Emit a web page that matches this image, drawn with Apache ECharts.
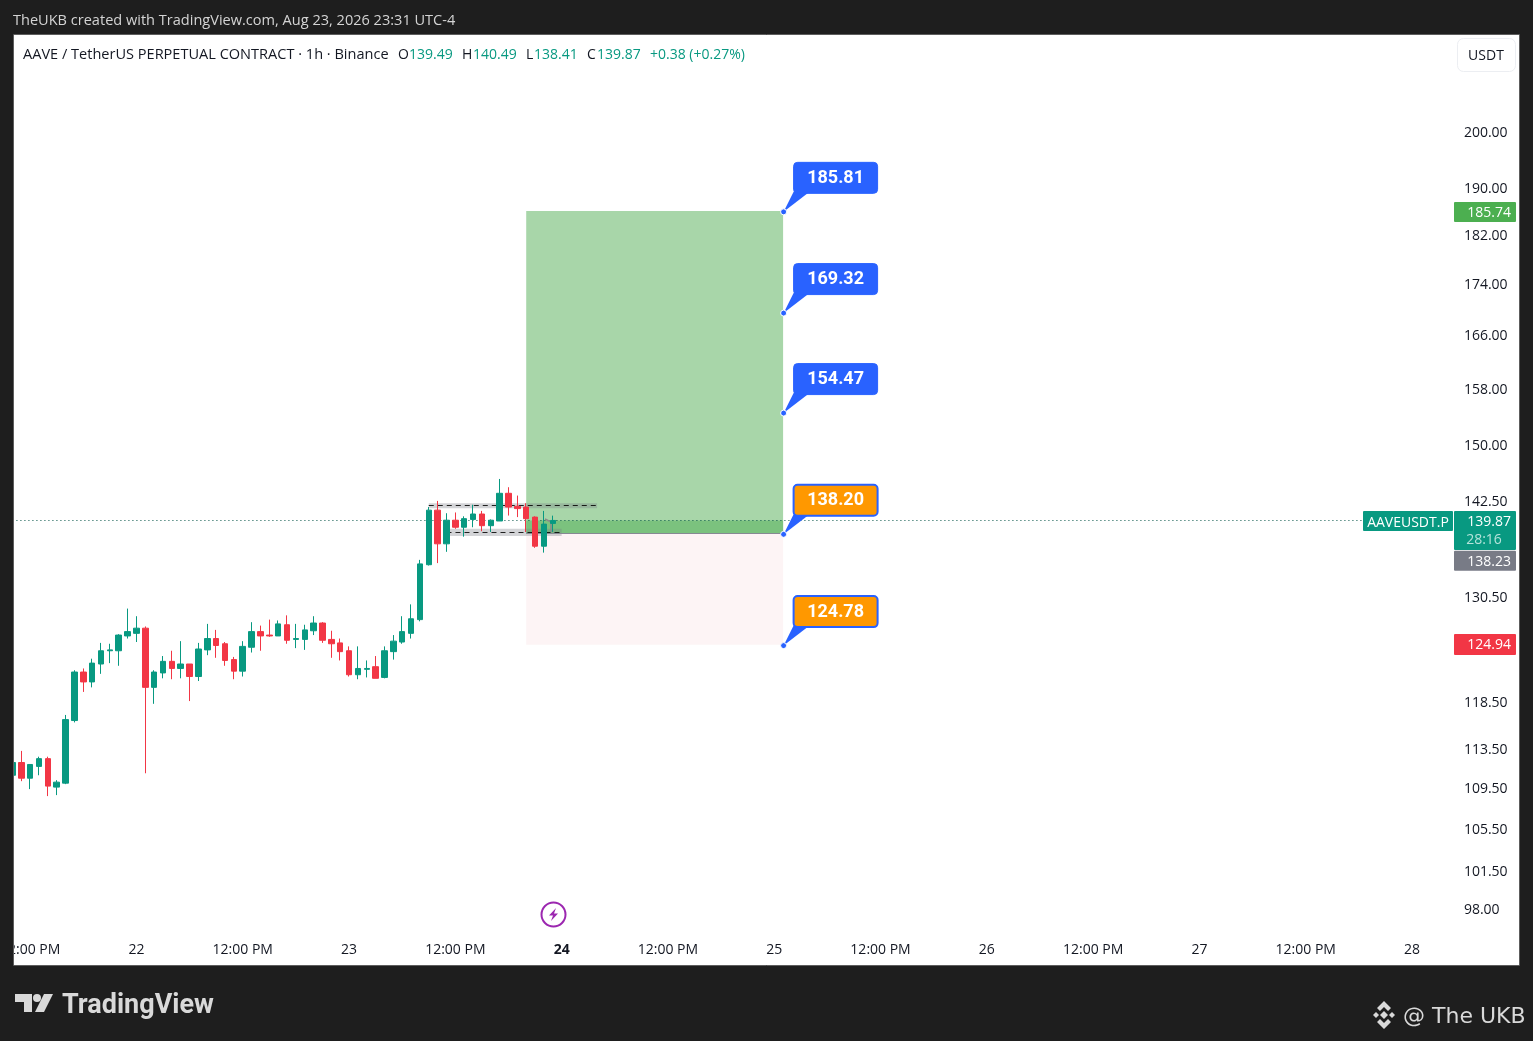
<!DOCTYPE html>
<html><head><meta charset="utf-8">
<style>html,body{margin:0;padding:0;background:#1e1e1e}#c{width:1533px;height:1041px}</style>
<script src="https://cdn.jsdelivr.net/npm/echarts@6/dist/echarts.min.js"></script>
</head><body><div id="c"></div>
<script>
const FONT='"Open Sans"';
const UP='#089981',DOWN='#F23645';
// [open, close, low, high]
const candles=[
[110.7,112.0,110.6,112.1],[112.0,110.4,110.1,113.2],[110.4,111.8,109.3,111.8],[111.6,112.4,110.7,112.6],
[112.4,109.6,108.6,112.6],[109.5,110.0,108.7,110.2],[109.9,116.5,109.8,117.0],[116.4,121.7,116.2,121.9],
[121.7,120.6,119.5,122.1],[120.6,122.7,120.0,123.2],[122.6,124.1,121.5,125.0],[124.1,124.2,122.7,124.9],
[124.1,125.9,122.4,126.0],[125.8,126.3,125.5,129.0],[126.1,126.7,125.1,128.1],[126.7,120.0,110.9,126.9],
[120.0,121.7,118.2,121.9],[121.6,122.9,121.0,123.5],[122.9,122.1,120.9,124.1],[122.1,122.6,121.0,125.2],
[122.6,121.2,118.5,122.6],[121.2,124.3,120.7,125.0],[124.2,125.5,123.6,127.2],[125.5,124.7,123.3,126.5],
[124.9,123.0,122.4,125.1],[123.1,121.8,120.9,123.4],[121.8,124.6,121.2,125.2],[124.5,126.3,123.9,127.4],
[126.3,125.8,124.1,127.0],[125.9,125.8,125.7,127.7],[125.8,127.2,125.8,127.6],[127.1,125.3,124.9,128.2],
[125.4,125.5,124.4,127.2],[125.4,126.5,124.2,127.1],[126.4,127.3,125.9,128.1],[127.3,125.3,125.0,127.4],
[125.4,124.9,123.3,126.4],[125.0,124.0,123.0,125.5],[124.1,121.4,121.2,124.6],[121.4,122.1,120.9,124.6],
[122.0,122.1,121.1,123.0],[122.3,121.0,121.0,123.5],[121.1,124.1,121.0,124.6],[124.0,125.2,123.1,125.9],
[125.1,126.3,124.9,128.1],[126.1,127.8,125.5,129.5],[127.7,134.4,127.5,134.9],[134.3,141.2,134.2,141.6],
[141.2,136.9,134.5,142.4],[136.9,139.9,135.9,140.8],[139.9,139.0,138.8,140.9],[139.0,140.1,137.8,140.4],
[140.0,140.7,139.0,141.9],[140.7,139.2,138.5,141.1],[139.2,139.9,138.4,140.0],[139.8,143.4,139.8,145.3],
[143.4,141.6,140.5,144.2],[141.7,141.4,140.3,143.1],[141.6,140.1,138.4,142.1],[140.3,136.6,136.4,140.4],
[136.6,139.4,135.8,141.1],[139.49,139.87,138.41,140.49]];
const priceTicks=[200,190,182,174,166,158,150,142.5,130.5,118.5,113.5,109.5,105.5,101.5,98];
// hourly categories, day of month + hour, from Aug 21 10:00 (163 bars)
const categories=[];
for(let d=21,h=10,n=0;n<163;n++){categories.push(d+' '+h);h++;if(h==24){h=0;d++;}}
const targetPrices=[185.81,169.32,154.47];
const entryStopPrices=[138.20,124.78];
const posStart=58,posEnd=87;
const priceNow=139.87,takeLine=185.74,stopLine=124.94,entryLine=138.23;
const zoneA=[47,66,142.1,141.45,141.8];
const zoneB=[49,62,138.8,137.9,138.35];

const chart=echarts.init(document.getElementById('c'),null,{renderer:'canvas',width:1533,height:1041});

function calloutItem(color,border){
  return function(params,api){
    const p=api.coord([api.value(0),api.value(1)]);
    const x=p[0]+0.5,y=p[1]+0.8;
    const ch=[
     {type:'polygon',shape:{points:[[x,y],[x+10,y-20],[x+26,y-20]]},style:{fill:border||color}},
     {type:'circle',shape:{cx:x,cy:y,r:3},style:{fill:'#2962ff',stroke:'#fff',lineWidth:1}},
     {type:'rect',shape:{x:x+10,y:y-49.5,width:84,height:31,r:4},style:{fill:color,stroke:border||color,lineWidth:border?2:1}},
     {type:'text',style:{text:api.value(1).toFixed(2),x:x+52,y:y-33.5,fill:'#fff',font:'bold 18px Roboto',align:'center',verticalAlign:'middle'}}
    ];
    return {type:'group',children:ch};
  };
}
function badgeItem(params,api){
  const p=api.coord([0,api.value(0)]);
  const dy=api.value(1);
  const h=api.value(2);
  const b=badges[params.dataIndex];
  return {type:'group',children:[
    {type:'rect',shape:{x:1454,y:p[1]-9.5+dy,width:62,height:h,r:1},style:{fill:b.color}},
    {type:'text',style:{text:b.text,x:1511,y:p[1]+dy+2,fill:'#fff',font:'14px '+FONT,align:'right',verticalAlign:'middle'}}
  ]};
}
const badges=[
 {value:takeLine,dy:0,h:20,color:'#4caf50',text:'185.74'},
 {value:priceNow,dy:0,h:39,color:UP,text:'139.87'},
 {value:entryLine,dy:27,h:20,color:'#787b86',text:'138.23'},
 {value:stopLine,dy:0,h:21,color:DOWN,text:'124.94'}
];
function txt(x,y,t,fill,extra){return Object.assign({type:'text',x:x,y:y,z:110,style:{text:t,fill:fill,font:'14px '+FONT,verticalAlign:'middle'}},extra||{});}
const dark='#1e1e1e';
const graphic=[
 {type:'rect',z:-10,shape:{x:14,y:35,width:1505,height:930},style:{fill:'#fff'}},
 {type:'rect',z:100,shape:{x:0,y:0,width:13,height:1041},style:{fill:dark}},
 {type:'rect',z:100,shape:{x:0,y:0,width:1533,height:34},style:{fill:dark}},
 {type:'rect',z:100,shape:{x:1520,y:0,width:13,height:1041},style:{fill:dark}},
 {type:'rect',z:100,shape:{x:0,y:966,width:1533,height:75},style:{fill:dark}},
 {type:'rect',z:101,shape:{x:13.5,y:34.5,width:1506,height:931},style:{fill:'none',stroke:'#5d5d5d',lineWidth:1}},
 txt(13,21,'TheUKB created with TradingView.com, Aug 23, 2026 23:31 UTC-4','#d4d4d4',{style:{text:'TheUKB created with TradingView.com, Aug 23, 2026 23:31 UTC-4',fill:'#d4d4d4',font:'14.55px '+FONT,verticalAlign:'middle'}}),
 txt(23,55,'AAVE / TetherUS PERPETUAL CONTRACT · 1h · Binance','#131722',{style:{text:'AAVE / TetherUS PERPETUAL CONTRACT · 1h · Binance',fill:'#131722',font:'14.55px '+FONT,verticalAlign:'middle'}}),
 txt(398,55,'O','#131722'),txt(409,55,'139.49',UP),
 txt(462,55,'H','#131722'),txt(473,55,'140.49',UP),
 txt(526,55,'L','#131722'),txt(534,55,'138.41',UP),
 txt(587,55,'C','#131722'),txt(597,55,'139.87',UP),
 txt(650,55,'+0.38 (+0.27%)',UP),
 {type:'rect',z:105,shape:{x:1457.5,y:38.5,width:58,height:33,r:6},style:{fill:'#fff',stroke:'#eceef2',lineWidth:1}},
 txt(1486,56,'USDT','#131722',{style:{text:'USDT',fill:'#131722',font:'14px '+FONT,align:'center',verticalAlign:'middle'}}),
 {type:'rect',z:104,shape:{x:1363,y:511,width:90,height:20,r:1},style:{fill:UP}},
 txt(1408,523,'AAVEUSDT.P','#fff',{style:{text:'AAVEUSDT.P',fill:'#fff',font:'14px '+FONT,align:'center',verticalAlign:'middle'}}),
 txt(1484,540,'28:16','#b5e3da',{style:{text:'28:16',fill:'#b5e3da',font:'14px '+FONT,align:'center',verticalAlign:'middle'}}),
 // small drawing beside the last candle
 {type:'polyline',z:3,shape:{points:[[545,519],[551,522],[551,532]]},style:{stroke:'#8a8a8a',fill:'none',lineWidth:1.5}},
 // lightning marker
 {type:'circle',z:105,shape:{cx:553.5,cy:914.5,r:12},style:{fill:'#fff',stroke:'#9c27b0',lineWidth:2}},
 {type:'polygon',z:106,shape:{points:[[556,908],[549,915.5],[553,915.5],[551,921],[558,913.5],[554,913.5]]},style:{fill:'#9c27b0'}},
 // tradingview logo
 {type:'polygon',z:110,shape:{points:[[15,994],[32,994],[32,1012],[24,1012],[24,1002],[15,1002]]},style:{fill:'#d9d9d9'}},
 {type:'circle',z:110,shape:{cx:37,cy:998,r:4},style:{fill:'#d9d9d9'}},
 {type:'polygon',z:110,shape:{points:[[44,994],[53,994],[44,1012],[35,1012]]},style:{fill:'#d9d9d9'}},
 txt(62,1006,'TradingView','#d9d9d9',{style:{text:'TradingView',fill:'#d9d9d9',font:'bold 27px Roboto',verticalAlign:'middle'}}),
 // binance mark
 {type:'polygon',z:110,shape:{points:[[1384,1001],[1391,1008],[1388,1011],[1384,1007],[1380,1011],[1377,1008]]},style:{fill:'#d9d9d9'}},
 {type:'polygon',z:110,shape:{points:[[1384,1029],[1391,1022],[1388,1019],[1384,1023],[1380,1019],[1377,1022]]},style:{fill:'#d9d9d9'}},
 {type:'polygon',z:110,shape:{points:[[1384,1011],[1388,1015],[1384,1019],[1380,1015]]},style:{fill:'#d9d9d9'}},
 {type:'polygon',z:110,shape:{points:[[1373,1015],[1376,1012],[1379,1015],[1376,1018]]},style:{fill:'#d9d9d9'}},
 {type:'polygon',z:110,shape:{points:[[1395,1015],[1392,1012],[1389,1015],[1392,1018]]},style:{fill:'#d9d9d9'}},
 txt(1403,1017,'@ The UKB','#d9d9d9',{style:{text:'@ The UKB',fill:'#d9d9d9',font:'22px "DejaVu Sans"',verticalAlign:'middle'}})
];
const option={
 backgroundColor:dark,animation:false,
 graphic:graphic,
 grid:{left:8,top:36,width:1443.9,height:899,containLabel:false,outerBoundsMode:'none'},
 xAxis:{type:'category',data:categories,boundaryGap:true,
   axisLine:{show:false},axisTick:{show:false},splitLine:{show:false},
   axisLabel:{margin:8,color:'#131722',fontFamily:FONT,fontSize:14,showMinLabel:true,showMaxLabel:true,hideOverlap:false,
     interval:function(i,v){const h=+v.split(' ')[1];return h===0||h===12;},
     formatter:function(v){const a=v.split(' ');if(+a[1]===12)return '12:00 PM';return a[0]==='24'?'{b|24}':a[0];},
     rich:{b:{fontWeight:'bold',fontFamily:FONT,fontSize:14,color:'#131722'}}}},
 yAxis:{type:'log',logBase:10,position:'right',min:95.6,max:218.2,
   axisLine:{show:false},axisTick:{show:false},splitLine:{show:false},minorTick:{show:false},minorSplitLine:{show:false},
   axisLabel:{customValues:priceTicks,margin:12,align:'left',color:'#131722',fontFamily:FONT,fontSize:14,
     formatter:function(v){return '{p|'+(+v).toFixed(2)+'}';},
     rich:{p:{padding:[4,0,0,0],color:'#131722',fontFamily:FONT,fontSize:14}}}},
 series:[]
};
option.series=[
 {type:'candlestick',name:'AAVEUSDT.P',data:candles,barWidth:6,z:4,
  itemStyle:{color:UP,color0:DOWN,borderColor:UP,borderColor0:DOWN,borderWidth:1},
  markArea:{silent:true,z:1,data:[
    [{coord:[posStart,targetPrices[0]],itemStyle:{color:'#a8d6a9',opacity:1,borderWidth:0}},{coord:[posEnd,entryStopPrices[0]]}],
    [{coord:[posStart,priceNow],itemStyle:{color:'#7bc27e',opacity:1}},{coord:[posEnd,entryStopPrices[0]]}],
    [{coord:[posStart,entryStopPrices[0]],itemStyle:{color:'#fdf4f5',opacity:1}},{coord:[posEnd,entryStopPrices[1]]}],
    [{coord:[zoneA[0],zoneA[2]],itemStyle:{color:'rgba(120,123,134,0.33)',opacity:1}},{coord:[zoneA[1],zoneA[3]]}],
    [{coord:[zoneB[0],zoneB[2]],itemStyle:{color:'rgba(120,123,134,0.33)',opacity:1}},{coord:[zoneB[1],zoneB[3]]}]
  ]},
  markLine:{silent:true,z:2,symbol:'none',label:{show:false},animation:false,data:[
    [{coord:[zoneA[0],zoneA[4]],lineStyle:{color:'rgba(0,0,0,0.85)',type:[5,4],width:1.2}},{coord:[zoneA[1],zoneA[4]]}],
    [{coord:[zoneB[0],zoneB[4]],lineStyle:{color:'rgba(0,0,0,0.85)',type:[5,4],width:1.2}},{coord:[zoneB[1],zoneB[4]]}],
    [{coord:[0,priceNow],lineStyle:{color:'#035346',type:[1,3],width:1}},{coord:[162,priceNow]}],
    [{coord:[posStart,entryStopPrices[0]],lineStyle:{color:'#868993',type:'solid',width:1}},{coord:[posEnd,entryStopPrices[0]]}]
  ]}},
 {type:'custom',name:'targets',clip:false,z:20,renderItem:calloutItem('#2962ff'),encode:{x:0,y:1},
  data:targetPrices.map(v=>[posEnd,v])},
 {type:'custom',name:'levels',clip:false,z:20,renderItem:calloutItem('#ff9800','#2962ff'),encode:{x:0,y:1},
  data:entryStopPrices.map(v=>[posEnd,v])},
 {type:'custom',name:'badges',clip:false,z:25,renderItem:badgeItem,encode:{y:0},coordinateSystem:'cartesian2d',
  data:badges.map(b=>[b.value,b.dy,b.h])}
];
chart.setOption(option);
</script></body></html>
